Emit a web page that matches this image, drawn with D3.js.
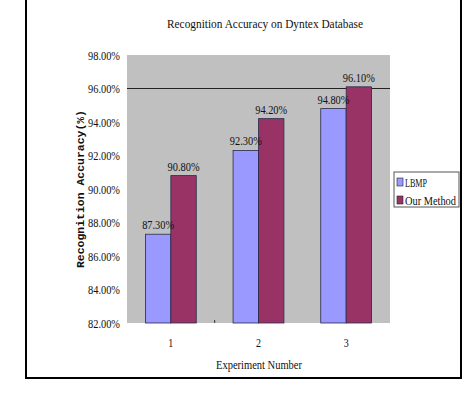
<!DOCTYPE html>
<html lang="en">
<head>
  <meta charset="UTF-8">
  <title>Recognition Accuracy on Dyntex Database</title>
  <script src="https://cdn.jsdelivr.net/npm/d3@7/dist/d3.min.js"></script>
  <style>
    body { margin: 0; background: #fff; }
    text { font-family: "Liberation Serif", serif; fill: #111; }
  </style>
</head>
<body>
  <script>
    const categories = ['1', '2', '3']
    const seriesNames = ['LBMP', 'Our Method']
    const lbmp = [87.3, 92.3, 94.8]
    const ourMethod = [90.8, 94.2, 96.1]
    const yTicks = [82, 84, 86, 88, 90, 92, 94, 96, 98]
    const gridValues = [96]
    const colors = ['#9999ff', '#993366']

    const W = 474, H = 398
    const plotL = 127, plotR = 390, plotT = 55, plotB = 323

    const svg = d3.select('body').append('svg')
      .attr('width', W).attr('height', H)

    // outer frame (top edge sits above the picture)
    svg.append('rect')
      .attr('x', 26).attr('y', -5).attr('width', 435).attr('height', 383)
      .attr('fill', 'none').attr('stroke', '#000').attr('stroke-width', 2)

    const x = d3.scaleBand().domain(categories).range([plotL, plotR])
      .paddingInner(0.42).paddingOuter(0.21)
    const xs = d3.scaleBand().domain(seriesNames).range([0, x.bandwidth()])
    const y = d3.scaleLinear().domain([82, 98]).range([plotB, plotT])

    // plot background
    svg.append('rect')
      .attr('x', plotL).attr('y', plotT)
      .attr('width', plotR - plotL).attr('height', plotB - plotT)
      .attr('fill', '#c0c0c0')

    // gridline
    svg.selectAll('.grid').data(gridValues).enter().append('line')
      .attr('x1', plotL).attr('x2', plotR)
      .attr('y1', d => y(d)).attr('y2', d => y(d))
      .attr('stroke', '#222').attr('stroke-width', 1)

    // y axis
    const yAxis = d3.axisLeft(y).tickValues(yTicks)
      .tickFormat(d => d.toFixed(2) + '%').tickSize(0).tickPadding(7)
    const gy = svg.append('g').attr('transform', `translate(${plotL},0)`).call(yAxis)
    gy.select('.domain').remove()
    gy.selectAll('text')
      .style('font-family', '"Liberation Serif", serif').style('font-size', '12.5px')
      .attr('textLength', 32).attr('lengthAdjust', 'spacingAndGlyphs')
      .attr('fill', '#111')

    // x axis
    const xAxis = d3.axisBottom(x).tickSize(0).tickPadding(15)
    const gx = svg.append('g').attr('transform', `translate(0,${plotB})`).call(xAxis)
    gx.select('.domain').remove()
    gx.selectAll('text')
      .style('font-family', '"Liberation Serif", serif').style('font-size', '12.5px')
      .attr('textLength', 5).attr('lengthAdjust', 'spacingAndGlyphs')
      .attr('fill', '#111')

    // small category divider tick
    const step = x.step()
    svg.append('line')
      .attr('x1', x(categories[1]) - (step - x.bandwidth()) / 2)
      .attr('x2', x(categories[1]) - (step - x.bandwidth()) / 2)
      .attr('y1', plotB - 3).attr('y2', plotB)
      .attr('stroke', '#333').attr('stroke-width', 1)

    // bars
    const rows = categories.map((c, i) => ({ cat: c, vals: [lbmp[i], ourMethod[i]] }))
    const groups = svg.selectAll('.grp').data(rows).enter().append('g')
      .attr('transform', d => `translate(${x(d.cat)},0)`)

    groups.selectAll('rect')
      .data(d => d.vals.map((v, k) => ({ name: seriesNames[k], v, k })))
      .enter().append('rect')
      .attr('x', d => xs(d.name))
      .attr('width', xs.bandwidth())
      .attr('y', d => y(d.v))
      .attr('height', d => plotB - y(d.v))
      .attr('fill', d => colors[d.k])
      .attr('stroke', '#2a2a4a').attr('stroke-width', 0.8)

    groups.selectAll('.lbl')
      .data(d => d.vals.map((v, k) => ({ name: seriesNames[k], v, k })))
      .enter().append('text')
      .attr('x', d => xs(d.name) + xs.bandwidth() / 2)
      .attr('y', d => y(d.v) - 5)
      .attr('text-anchor', 'middle')
      .attr('font-size', 12.5)
      .attr('textLength', 32).attr('lengthAdjust', 'spacingAndGlyphs')
      .text(d => d.v.toFixed(2) + '%')

    // title
    svg.append('text')
      .attr('x', 265).attr('y', 28)
      .attr('text-anchor', 'middle').attr('font-size', 12.5)
      .attr('textLength', 196).attr('lengthAdjust', 'spacingAndGlyphs')
      .text('Recognition Accuracy on Dyntex Database')

    // axis titles
    svg.append('text')
      .attr('transform', `translate(84,${(plotT + plotB) / 2}) rotate(-90)`)
      .attr('text-anchor', 'middle')
      .style('font-family', '"Liberation Mono", monospace')
      .attr('font-size', 11.5).attr('font-weight', 'bold')
      .attr('textLength', 158).attr('lengthAdjust', 'spacingAndGlyphs')
      .text('Recognition Accuracy(%)')

    svg.append('text')
      .attr('x', 259).attr('y', 369)
      .attr('text-anchor', 'middle').attr('font-size', 12.5)
      .attr('textLength', 86).attr('lengthAdjust', 'spacingAndGlyphs')
      .text('Experiment Number')

    // legend
    const lg = svg.append('g').attr('transform', 'translate(394,172)')
    lg.append('rect')
      .attr('width', 65).attr('height', 35)
      .attr('fill', '#fff').attr('stroke', '#555').attr('stroke-width', 1)
    const items = lg.selectAll('.item').data(seriesNames).enter().append('g')
      .attr('transform', (d, i) => `translate(3,${6 + i * 18})`)
    items.append('rect')
      .attr('width', 6).attr('height', 8)
      .attr('fill', (d, i) => colors[i]).attr('stroke', '#222').attr('stroke-width', 0.6)
    items.append('text')
      .attr('x', 8).attr('y', 8.5)
      .attr('font-size', 12)
      .attr('textLength', (d, i) => i === 0 ? 22 : 51)
      .attr('lengthAdjust', 'spacingAndGlyphs')
      .text(d => d)
  </script>
</body>
</html>
